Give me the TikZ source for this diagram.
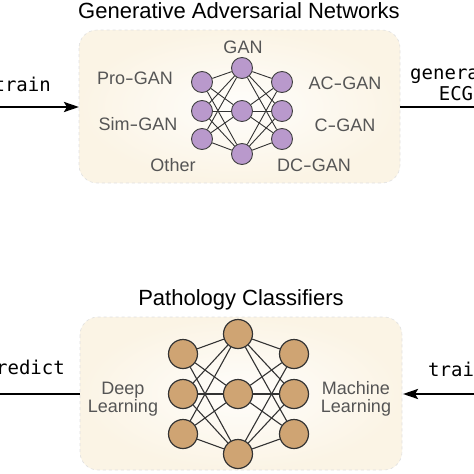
\documentclass[tikz,border=0pt]{standalone}
\usepackage{fontspec}
\setmainfont{Liberation Sans}
\setmonofont{DejaVu Sans Mono}
\usetikzlibrary{arrows.meta}
\definecolor{cream}{HTML}{FBF4E5}
\definecolor{purp}{HTML}{B999CC}
\definecolor{tan}{HTML}{CFA473}
\definecolor{lab}{HTML}{555555}
\definecolor{edgec}{HTML}{333333}
\newcommand{\hy}{\scalebox{1.45}[1]{-}}
\tikzset{
  panel/.style={rounded corners=18pt,inner color=white!85!cream,outer color=cream,draw=black!12,dashed,line width=.6pt},
  ttl/.style={font=\fontsize{22}{24}\selectfont,text=black,inner sep=0pt},
  lbl/.style={font=\fontsize{18}{18.5}\selectfont,text=lab,inner sep=0pt,align=center},
  code/.style={font=\ttfamily\fontsize{19}{21}\selectfont,text=black,inner sep=0pt,align=center},
  pn/.style={circle,draw=black!75,line width=.9pt,fill=purp,minimum size=21pt,inner sep=0pt},
  bn/.style={circle,draw=black!80,line width=1.2pt,fill=tan,minimum size=29pt,inner sep=0pt},
  ne/.style={draw=edgec,line width=.9pt},
  neb/.style={draw=edgec,line width=1.1pt},
  flow/.style={draw=black,line width=2.6pt,-{Stealth[length=15pt,width=10pt,inset=3pt]}},
  flowb/.style={draw=black,line width=2.6pt}
}
\begin{document}
\begin{tikzpicture}[x=1pt,y=-1pt]
\useasboundingbox (0,0) rectangle (474,474);
\clip (0,0) rectangle (474,474);
% panels
\path[panel] (79,30) rectangle (400,183);
\path[panel] (80,317) rectangle (402,470);
% titles
\node[ttl] (t1) at (239,11) {Generative Adversarial Networks};
\node[ttl] (t2) at (241,300) {Pathology Classifiers};
% top network
\foreach \n/\x/\y in {a1/202/82,a2/202/111,a3/202/139,b1/242/68,b2/242/111,b3/242/154,c1/282/82,c2/282/111,c3/282/139}
  \node[pn] (\n) at (\x,\y) {};
\foreach \p in {a1,a2,a3,c1,c2,c3}\foreach \q in {b1,b2,b3}
  \draw[ne] (\p) -- (\q);
% bottom network
\foreach \n/\x/\y in {d1/183/354,d2/183/394,d3/183/434,e1/238/334,e2/238/394,e3/238/454,f1/294/354,f2/294/394,f3/294/434}
  \node[bn] (\n) at (\x,\y) {};
\foreach \p in {d1,d2,d3,f1,f2,f3}\foreach \q in {e1,e2,e3}
  \draw[neb] (\p) -- (\q);
% labels
\node[lbl] (l1) at (243,47) {GAN};
\node[lbl] (l2) at (135,78) {Pro\hy GAN};
\node[lbl] (l3) at (138,124) {Sim\hy GAN};
\node[lbl] (l4) at (173,165) {Other};
\node[lbl] (l5) at (345,83) {AC\hy GAN};
\node[lbl] (l6) at (345,125) {C\hy GAN};
\node[lbl] (l7) at (314,165) {DC\hy GAN};
\node[lbl] (l8) at (123,399) {Deep\\Learning};
\node[lbl] (l9) at (356,399) {Machine\\Learning};
% connectors
\coordinate (p1) at (-5,107);
\coordinate (p2) at (79,107);
\coordinate (p3) at (400,107);
\coordinate (p4) at (480,107);
\coordinate (p5) at (80,394);
\coordinate (p6) at (-5,394);
\coordinate (p7) at (480,394);
\coordinate (p8) at (403,394);
\draw[flow] (p1) -- (p2);
\draw[flowb] (p3) -- (p4);
\draw[flowb] (p5) -- (p6);
\draw[flow] (p7) -- (p8);
\node[code,anchor=east] (c1t) at (51,84) {train};
\node[code,anchor=north] (c2t) at (456,66) {generate\\ECG};
\node[code,anchor=east] (c3t) at (65,369) {predict};
\node[code,anchor=west] (c4t) at (428,369) {train};
\end{tikzpicture}
\end{document}
